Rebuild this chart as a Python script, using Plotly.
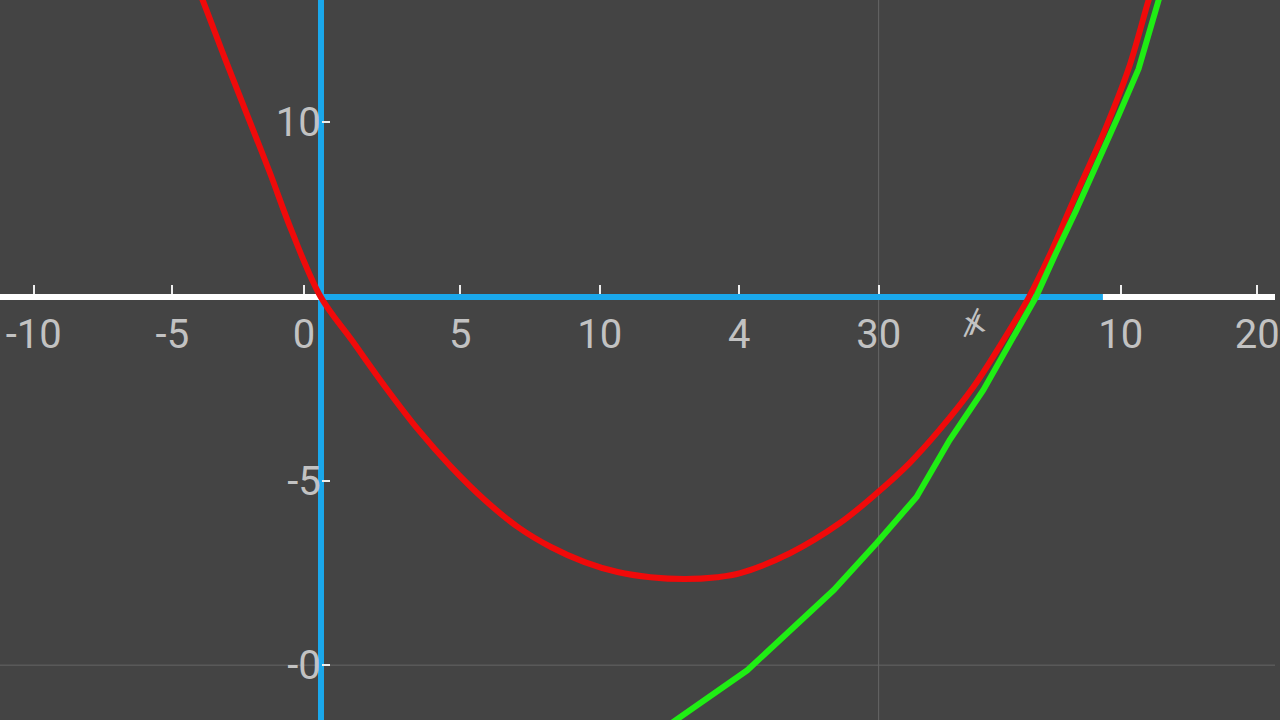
"""Parabola vs. steeper curve on a dark graphing-calculator style canvas."""

import plotly.graph_objects as go

# --- data (axis units) ---
red_x = [-4.46, -4.21, -3.43, -2.54, -1.82, -1.04, 0.0, 1.11, 2.32, 3.5,
         4.68, 5.89, 7.07, 8.25, 9.46, 10.64, 11.82, 13.04, 14.21, 15.04,
         16.82, 18.61, 19.93, 21.11, 22.18, 23.39, 24.32, 25.39, 26.18,
         26.96, 28.14, 28.96, 29.68, 29.86]
red_y = [8.48, 8.02, 6.47, 4.76, 3.37, 1.79, 0.0, -1.17, -2.45, -3.61,
         -4.62, -5.52, -6.25, -6.79, -7.2, -7.47, -7.61, -7.66, -7.61, -7.5,
         -6.96, -6.14, -5.33, -4.51, -3.61, -2.45, -1.36, 0.0, 1.22,
         2.58, 4.59, 6.2, 8.07, 8.48]

green_x = [11.96, 12.79, 15.29, 18.39, 19.93, 21.36, 22.54, 23.75, 24.68,
           25.64, 26.36, 27.07, 28.61, 29.32, 30.04, 30.21]
green_y = [-11.9, -11.47, -10.14, -7.96, -6.68, -5.43, -3.89, -2.53, -1.25,
           0.0, 1.2, 2.34, 4.95, 6.2, 8.07, 8.48]

blue_seg_x = [0.0, 28.04]
blue_seg_y = [0.0, 0.0]

x_tickvals = [-10.29, -5.32, -0.6, 5, 10, 15, 20, 28.68, 33.57]
x_ticktext = ["-10", "-5", "0", "5", "10", "4", "30", "10", "20"]
y_tickvals = [4.76, -5, -10]
y_ticktext = ["10", "-5", "-0"]

X_RANGE = [-11.5, 34.21]
Y_RANGE = [-11.49, 8.07]

BG = "#444444"
BLUE = "#1aa8ec"
RED = "#f00a0a"
GREEN = "#1fee14"
LABEL = "#c2c2c2"

fig = go.Figure()

fig.add_vline(x=20, line_color="#666666", line_width=1, layer="below")
fig.add_hline(y=-10, line_color="#666666", line_width=1, layer="below")

fig.add_trace(go.Scatter(x=blue_seg_x, y=blue_seg_y, mode="lines",
                         line=dict(color=BLUE, width=6), hoverinfo="skip"))
fig.add_trace(go.Scatter(x=red_x, y=red_y, mode="lines",
                         line=dict(color=RED, width=6, shape="spline", smoothing=1.0)))
fig.add_trace(go.Scatter(x=green_x, y=green_y, mode="lines",
                         line=dict(color=GREEN, width=6)))

x_pos = (0 - Y_RANGE[0]) / (Y_RANGE[1] - Y_RANGE[0])
y_pos = (0 - X_RANGE[0]) / (X_RANGE[1] - X_RANGE[0])

fig.update_xaxes(
    range=X_RANGE, anchor="free", position=x_pos, side="bottom",
    showgrid=False, zeroline=True, zerolinecolor=BLUE, zerolinewidth=6,
    showline=True, linecolor="white", linewidth=6, layer="below traces",
    tickvals=x_tickvals, ticktext=x_ticktext, ticklabeloverflow="allow",
    ticks="inside", ticklen=9, tickwidth=2, tickcolor="#eeeeee",
    tickfont=dict(family="Roboto", size=40, color=LABEL),
)
fig.update_yaxes(
    range=Y_RANGE, anchor="free", position=y_pos, side="left",
    showgrid=False, zeroline=False, showline=False, layer="below traces",
    tickvals=y_tickvals, ticktext=y_ticktext, ticklabeloverflow="allow",
    ticks="inside", ticklen=8, tickwidth=2, tickcolor="#eeeeee",
    tickfont=dict(family="Roboto", size=40, color=LABEL),
)

fig.add_annotation(x=23.35, y=-0.7, text="x\u0338", showarrow=False,
                   textangle=-15, font=dict(family="DejaVu Sans", size=32, color=LABEL))

fig.update_layout(
    width=1280, height=720, margin=dict(l=0, r=0, t=0, b=0),
    paper_bgcolor=BG, plot_bgcolor=BG, showlegend=False,
)
fig.write_html("out.html", config={"displayModeBar": False},
               post_script="document.body.style.margin='0';"
               "document.body.style.background='" + BG + "';")
